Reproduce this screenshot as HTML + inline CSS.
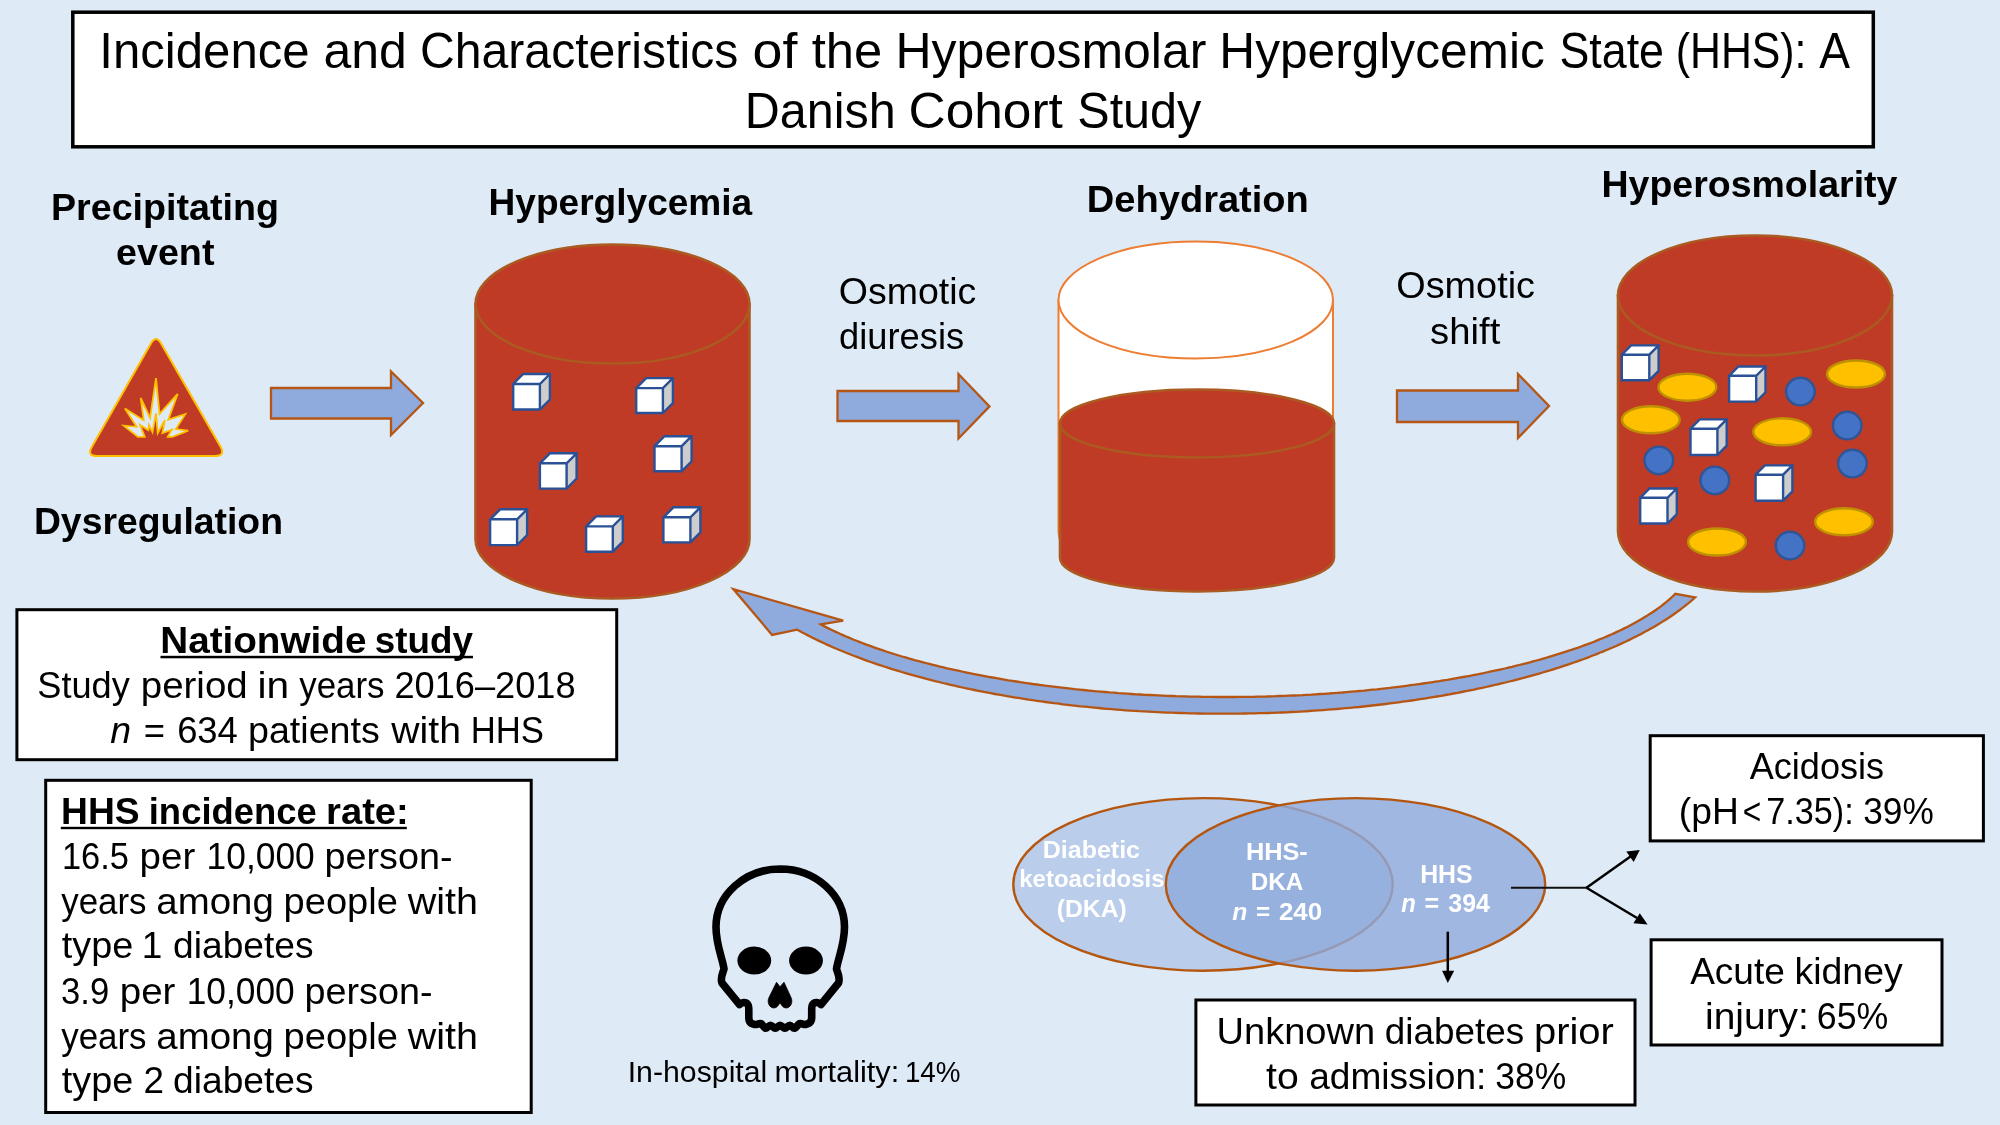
<!DOCTYPE html>
<html><head><meta charset="utf-8"><style>
html,body{margin:0;padding:0;background:#DEEAF6;}
body{width:2000px;height:1125px;overflow:hidden;}
svg{display:block;font-family:"Liberation Sans",sans-serif;font-kerning:none;will-change:transform;}
text{font-kerning:none;}
</style></head><body>
<svg width="2000" height="1125" viewBox="0 0 2000 1125">
<rect width="2000" height="1125" fill="#DEEAF6"/>
<rect x="72.8" y="12.2" width="1800.5" height="134.6" fill="#fff" stroke="#000" stroke-width="3.5"/>
<text x="99.28" y="68.10" font-size="50.5" fill="#000" textLength="210.37" lengthAdjust="spacingAndGlyphs">Incidence</text>
<text x="323.40" y="68.10" font-size="50.5" fill="#000" textLength="83.32" lengthAdjust="spacingAndGlyphs">and</text>
<text x="420.05" y="68.10" font-size="50.5" fill="#000" textLength="318.28" lengthAdjust="spacingAndGlyphs">Characteristics</text>
<text x="752.64" y="68.10" font-size="50.5" fill="#000" textLength="44.80" lengthAdjust="spacingAndGlyphs">of</text>
<text x="811.74" y="68.10" font-size="50.5" fill="#000" textLength="70.50" lengthAdjust="spacingAndGlyphs">the</text>
<text x="895.40" y="68.10" font-size="50.5" fill="#000" textLength="310.95" lengthAdjust="spacingAndGlyphs">Hyperosmolar</text>
<text x="1219.33" y="68.10" font-size="50.5" fill="#000" textLength="325.47" lengthAdjust="spacingAndGlyphs">Hyperglycemic</text>
<text x="1559.44" y="68.10" font-size="50.5" fill="#000" textLength="104.53" lengthAdjust="spacingAndGlyphs">State</text>
<text x="1675.75" y="68.10" font-size="50.5" fill="#000" textLength="130.76" lengthAdjust="spacingAndGlyphs">(HHS):</text>
<text x="1819.31" y="68.10" font-size="50.5" fill="#000" textLength="30.78" lengthAdjust="spacingAndGlyphs">A</text>
<text x="744.78" y="127.80" font-size="50.5" fill="#000" textLength="150.87" lengthAdjust="spacingAndGlyphs">Danish</text>
<text x="908.63" y="127.80" font-size="50.5" fill="#000" textLength="154.20" lengthAdjust="spacingAndGlyphs">Cohort</text>
<text x="1077.27" y="127.80" font-size="50.5" fill="#000" textLength="124.09" lengthAdjust="spacingAndGlyphs">Study</text>
<text x="50.98" y="220.00" font-size="37.8" font-weight="bold" fill="#000" textLength="228.03" lengthAdjust="spacingAndGlyphs">Precipitating</text>
<text x="116.03" y="265.00" font-size="37.8" font-weight="bold" fill="#000" textLength="98.43" lengthAdjust="spacingAndGlyphs">event</text>
<text x="488.52" y="215.00" font-size="37.8" font-weight="bold" fill="#000" textLength="263.72" lengthAdjust="spacingAndGlyphs">Hyperglycemia</text>
<text x="1086.85" y="212.00" font-size="37.8" font-weight="bold" fill="#000" textLength="222.01" lengthAdjust="spacingAndGlyphs">Dehydration</text>
<text x="1601.49" y="197.20" font-size="37.8" font-weight="bold" fill="#000" textLength="295.92" lengthAdjust="spacingAndGlyphs">Hyperosmolarity</text>
<text x="33.90" y="534.00" font-size="37.8" font-weight="bold" fill="#000" textLength="249.12" lengthAdjust="spacingAndGlyphs">Dysregulation</text>
<text x="838.84" y="304.30" font-size="37" fill="#000" textLength="137.54" lengthAdjust="spacingAndGlyphs">Osmotic</text>
<text x="839.08" y="349.30" font-size="37" fill="#000" textLength="125.02" lengthAdjust="spacingAndGlyphs">diuresis</text>
<text x="1396.22" y="298.00" font-size="37" fill="#000" textLength="138.76" lengthAdjust="spacingAndGlyphs">Osmotic</text>
<text x="1430.13" y="344.00" font-size="37" fill="#000" textLength="70.14" lengthAdjust="spacingAndGlyphs">shift</text>
<path d="M151.5,342.5 Q156,335.5 160.5,342.5 L221,447.5 Q225,456 215,456 L97,456 Q87,456 91.5,447.5 Z" fill="#BF3B26" stroke="#FFC000" stroke-width="2" stroke-linejoin="round"/>
<path d="M137.8,436.8 L123.7,425.6 L136.6,426.8 L124.9,408.6 L143.7,420.3 L140.7,398.0 L150.1,418.0 L156.0,378.1 L159.5,413.9 L177.7,393.9 L168.3,419.7 L185.3,414.2 L175.9,429.1 L188.2,430.7 L172.4,436.8 L167.7,436.8 L171.8,429.7 L162.4,433.2 L164.8,420.3 L157.7,433.2 L156.0,413.3 L152.5,432.1 L148.9,425.0 L148.4,430.3 L140.1,425.0 L144.8,436.8 Z" fill="#DEEAF6" stroke="#FFC000" stroke-width="1.8" stroke-linejoin="miter"/>
<path d="M271,388 L391,388 L391,371.5 L423,403 L391,435 L391,418.5 L271,418.5 Z" fill="#8FAADC" stroke="#B55614" stroke-width="2.3"/>
<path d="M837.5,391 L958.5,391 L958.5,374 L989.5,406.4 L958.5,438.5 L958.5,421 L837.5,421 Z" fill="#8FAADC" stroke="#B55614" stroke-width="2.3"/>
<path d="M1397,390.5 L1518,390.5 L1518,374 L1549,406 L1518,438 L1518,422 L1397,422 Z" fill="#8FAADC" stroke="#B55614" stroke-width="2.3"/>
<path d="M475.5,304.0 L475.5,539.0 A137.0,59.5 0 0 0 749.5,539.0 L749.5,304.0 Z" fill="#BF3B26" stroke="#AB5A21" stroke-width="2.6"/>
<ellipse cx="612.5" cy="304.0" rx="137.0" ry="59.5" fill="#BF3B26" stroke="#AB5A21" stroke-width="2.6"/>
<path d="M513.2,384.0 L523.2,374.0 L549.9,374.0 L539.9,384.0 Z" fill="#fff"/>
<path d="M539.9,384.0 L549.9,374.0 L549.9,399.5 L539.9,409.5 Z" fill="#CDCDCD"/>
<rect x="513.2" y="384.0" width="26.7" height="25.5" fill="#fff"/>
<path d="M513.2,384.0 L523.2,374.0 L549.9,374.0 L549.9,399.5 L539.9,409.5 L513.2,409.5 Z M513.2,384.0 L539.9,384.0 L549.9,374.0 M539.9,384.0 L539.9,409.5" fill="none" stroke="#2A5196" stroke-width="2.4" stroke-linejoin="miter"/>
<path d="M636.2,388.1 L646.2,378.1 L672.9,378.1 L662.9,388.1 Z" fill="#fff"/>
<path d="M662.9,388.1 L672.9,378.1 L672.9,403.0 L662.9,413.0 Z" fill="#CDCDCD"/>
<rect x="636.2" y="388.1" width="26.7" height="24.9" fill="#fff"/>
<path d="M636.2,388.1 L646.2,378.1 L672.9,378.1 L672.9,403.0 L662.9,413.0 L636.2,413.0 Z M636.2,388.1 L662.9,388.1 L672.9,378.1 M662.9,388.1 L662.9,413.0" fill="none" stroke="#2A5196" stroke-width="2.4" stroke-linejoin="miter"/>
<path d="M654.5,446.2 L664.5,436.2 L691.6,436.2 L681.6,446.2 Z" fill="#fff"/>
<path d="M681.6,446.2 L691.6,436.2 L691.6,461.3 L681.6,471.3 Z" fill="#CDCDCD"/>
<rect x="654.5" y="446.2" width="27.1" height="25.1" fill="#fff"/>
<path d="M654.5,446.2 L664.5,436.2 L691.6,436.2 L691.6,461.3 L681.6,471.3 L654.5,471.3 Z M654.5,446.2 L681.6,446.2 L691.6,436.2 M681.6,446.2 L681.6,471.3" fill="none" stroke="#2A5196" stroke-width="2.4" stroke-linejoin="miter"/>
<path d="M539.9,463.3 L549.9,453.3 L576.6,453.3 L566.6,463.3 Z" fill="#fff"/>
<path d="M566.6,463.3 L576.6,453.3 L576.6,478.6 L566.6,488.6 Z" fill="#CDCDCD"/>
<rect x="539.9" y="463.3" width="26.7" height="25.3" fill="#fff"/>
<path d="M539.9,463.3 L549.9,453.3 L576.6,453.3 L576.6,478.6 L566.6,488.6 L539.9,488.6 Z M539.9,463.3 L566.6,463.3 L576.6,453.3 M566.6,463.3 L566.6,488.6" fill="none" stroke="#2A5196" stroke-width="2.4" stroke-linejoin="miter"/>
<path d="M490.1,519.3 L500.1,509.3 L527.1,509.3 L517.1,519.3 Z" fill="#fff"/>
<path d="M517.1,519.3 L527.1,509.3 L527.1,535.1 L517.1,545.1 Z" fill="#CDCDCD"/>
<rect x="490.1" y="519.3" width="27.0" height="25.8" fill="#fff"/>
<path d="M490.1,519.3 L500.1,509.3 L527.1,509.3 L527.1,535.1 L517.1,545.1 L490.1,545.1 Z M490.1,519.3 L517.1,519.3 L527.1,509.3 M517.1,519.3 L517.1,545.1" fill="none" stroke="#2A5196" stroke-width="2.4" stroke-linejoin="miter"/>
<path d="M586.1,526.4 L596.1,516.4 L622.8,516.4 L612.8,526.4 Z" fill="#fff"/>
<path d="M612.8,526.4 L622.8,516.4 L622.8,541.7 L612.8,551.7 Z" fill="#CDCDCD"/>
<rect x="586.1" y="526.4" width="26.7" height="25.3" fill="#fff"/>
<path d="M586.1,526.4 L596.1,516.4 L622.8,516.4 L622.8,541.7 L612.8,551.7 L586.1,551.7 Z M586.1,526.4 L612.8,526.4 L622.8,516.4 M612.8,526.4 L612.8,551.7" fill="none" stroke="#2A5196" stroke-width="2.4" stroke-linejoin="miter"/>
<path d="M663.4,517.3 L673.4,507.3 L700.4,507.3 L690.4,517.3 Z" fill="#fff"/>
<path d="M690.4,517.3 L700.4,507.3 L700.4,532.4 L690.4,542.4 Z" fill="#CDCDCD"/>
<rect x="663.4" y="517.3" width="27.0" height="25.1" fill="#fff"/>
<path d="M663.4,517.3 L673.4,507.3 L700.4,507.3 L700.4,532.4 L690.4,542.4 L663.4,542.4 Z M663.4,517.3 L690.4,517.3 L700.4,507.3 M690.4,517.3 L690.4,542.4" fill="none" stroke="#2A5196" stroke-width="2.4" stroke-linejoin="miter"/>
<path d="M1058.5,300.0 L1058.5,531.5 A137.25,58.5 0 0 0 1333,531.5 L1333,300.0 Z" fill="#fff" stroke="#ED7D31" stroke-width="2"/>
<ellipse cx="1195.75" cy="300.0" rx="137.25" ry="58.5" fill="#fff" stroke="#ED7D31" stroke-width="2"/>
<path d="M1060,423.5 L1060,557.5 A137.0,34 0 0 0 1334,557.5 L1334,423.5 Z" fill="#BF3B26" stroke="#AB5A21" stroke-width="2.6"/>
<ellipse cx="1197.0" cy="423.5" rx="137.0" ry="34" fill="#BF3B26" stroke="#AB5A21" stroke-width="2.6"/>
<path d="M1618,295.5 L1618,531.5 A137.0,60 0 0 0 1892,531.5 L1892,295.5 Z" fill="#BF3B26" stroke="#AB5A21" stroke-width="2.6"/>
<ellipse cx="1755.0" cy="295.5" rx="137.0" ry="60" fill="#BF3B26" stroke="#AB5A21" stroke-width="2.6"/>
<ellipse cx="1687.4" cy="387.2" rx="28.9" ry="13.5" fill="#FFC000" stroke="#BF9000" stroke-width="2.4"/>
<ellipse cx="1856" cy="374" rx="28.9" ry="13.5" fill="#FFC000" stroke="#BF9000" stroke-width="2.4"/>
<ellipse cx="1650.8" cy="419.8" rx="28.9" ry="13.5" fill="#FFC000" stroke="#BF9000" stroke-width="2.4"/>
<ellipse cx="1782.2" cy="431.8" rx="28.9" ry="13.5" fill="#FFC000" stroke="#BF9000" stroke-width="2.4"/>
<ellipse cx="1844" cy="521.8" rx="28.9" ry="13.5" fill="#FFC000" stroke="#BF9000" stroke-width="2.4"/>
<ellipse cx="1717" cy="542" rx="28.9" ry="13.5" fill="#FFC000" stroke="#BF9000" stroke-width="2.4"/>
<ellipse cx="1800.4" cy="391.6" rx="14.3" ry="13.8" fill="#4472C4" stroke="#2F5597" stroke-width="2.4"/>
<ellipse cx="1847.2" cy="425.6" rx="14.3" ry="13.8" fill="#4472C4" stroke="#2F5597" stroke-width="2.4"/>
<ellipse cx="1658.8" cy="460.4" rx="14.3" ry="13.8" fill="#4472C4" stroke="#2F5597" stroke-width="2.4"/>
<ellipse cx="1852.4" cy="463.6" rx="14.3" ry="13.8" fill="#4472C4" stroke="#2F5597" stroke-width="2.4"/>
<ellipse cx="1714.8" cy="480.4" rx="14.3" ry="13.8" fill="#4472C4" stroke="#2F5597" stroke-width="2.4"/>
<ellipse cx="1790" cy="545.6" rx="14.3" ry="13.8" fill="#4472C4" stroke="#2F5597" stroke-width="2.4"/>
<path d="M1621.8,354.7 L1631.1,345.4 L1658.6,345.4 L1649.3,354.7 Z" fill="#fff"/>
<path d="M1649.3,354.7 L1658.6,345.4 L1658.6,370.9 L1649.3,380.2 Z" fill="#CDCDCD"/>
<rect x="1621.8" y="354.7" width="27.5" height="25.5" fill="#fff"/>
<path d="M1621.8,354.7 L1631.1,345.4 L1658.6,345.4 L1658.6,370.9 L1649.3,380.2 L1621.8,380.2 Z M1621.8,354.7 L1649.3,354.7 L1658.6,345.4 M1649.3,354.7 L1649.3,380.2" fill="none" stroke="#2A5196" stroke-width="2.4" stroke-linejoin="miter"/>
<path d="M1729.1,375.8 L1738.4,366.5 L1765.5,366.5 L1756.2,375.8 Z" fill="#fff"/>
<path d="M1756.2,375.8 L1765.5,366.5 L1765.5,392.3 L1756.2,401.6 Z" fill="#CDCDCD"/>
<rect x="1729.1" y="375.8" width="27.1" height="25.8" fill="#fff"/>
<path d="M1729.1,375.8 L1738.4,366.5 L1765.5,366.5 L1765.5,392.3 L1756.2,401.6 L1729.1,401.6 Z M1729.1,375.8 L1756.2,375.8 L1765.5,366.5 M1756.2,375.8 L1756.2,401.6" fill="none" stroke="#2A5196" stroke-width="2.4" stroke-linejoin="miter"/>
<path d="M1690.5,428.7 L1699.8,419.4 L1726.7,419.4 L1717.4,428.7 Z" fill="#fff"/>
<path d="M1717.4,428.7 L1726.7,419.4 L1726.7,445.7 L1717.4,455.0 Z" fill="#CDCDCD"/>
<rect x="1690.5" y="428.7" width="26.9" height="26.3" fill="#fff"/>
<path d="M1690.5,428.7 L1699.8,419.4 L1726.7,419.4 L1726.7,445.7 L1717.4,455.0 L1690.5,455.0 Z M1690.5,428.7 L1717.4,428.7 L1726.7,419.4 M1717.4,428.7 L1717.4,455.0" fill="none" stroke="#2A5196" stroke-width="2.4" stroke-linejoin="miter"/>
<path d="M1755.6,474.7 L1764.9,465.4 L1792.4,465.4 L1783.1,474.7 Z" fill="#fff"/>
<path d="M1783.1,474.7 L1792.4,465.4 L1792.4,491.4 L1783.1,500.7 Z" fill="#CDCDCD"/>
<rect x="1755.6" y="474.7" width="27.5" height="26.0" fill="#fff"/>
<path d="M1755.6,474.7 L1764.9,465.4 L1792.4,465.4 L1792.4,491.4 L1783.1,500.7 L1755.6,500.7 Z M1755.6,474.7 L1783.1,474.7 L1792.4,465.4 M1783.1,474.7 L1783.1,500.7" fill="none" stroke="#2A5196" stroke-width="2.4" stroke-linejoin="miter"/>
<path d="M1640.2,497.8 L1649.5,488.5 L1676.8,488.5 L1667.5,497.8 Z" fill="#fff"/>
<path d="M1667.5,497.8 L1676.8,488.5 L1676.8,514.2 L1667.5,523.5 Z" fill="#CDCDCD"/>
<rect x="1640.2" y="497.8" width="27.3" height="25.7" fill="#fff"/>
<path d="M1640.2,497.8 L1649.5,488.5 L1676.8,488.5 L1676.8,514.2 L1667.5,523.5 L1640.2,523.5 Z M1640.2,497.8 L1667.5,497.8 L1676.8,488.5 M1667.5,497.8 L1667.5,523.5" fill="none" stroke="#2A5196" stroke-width="2.4" stroke-linejoin="miter"/>
<path d="M1675.3,593.8 L1674.0,595.2 L1672.5,596.5 L1671.1,597.8 L1669.6,599.2 L1668.1,600.5 L1666.5,601.8 L1664.9,603.1 L1663.2,604.5 L1661.5,605.8 L1659.8,607.1 L1658.0,608.4 L1656.2,609.7 L1654.3,611.0 L1652.5,612.2 L1650.5,613.5 L1648.5,614.8 L1646.5,616.1 L1644.5,617.3 L1642.4,618.6 L1640.3,619.8 L1638.1,621.1 L1635.9,622.3 L1633.6,623.5 L1631.4,624.7 L1629.0,626.0 L1626.7,627.2 L1624.3,628.4 L1621.9,629.6 L1619.4,630.7 L1616.9,631.9 L1614.4,633.1 L1611.8,634.3 L1609.2,635.4 L1606.5,636.6 L1603.9,637.7 L1601.1,638.8 L1598.4,639.9 L1595.6,641.1 L1592.8,642.2 L1589.9,643.3 L1587.0,644.4 L1584.1,645.4 L1581.2,646.5 L1578.2,647.6 L1575.2,648.6 L1572.1,649.7 L1569.0,650.7 L1565.9,651.7 L1562.8,652.7 L1559.6,653.7 L1556.4,654.7 L1553.2,655.7 L1549.9,656.7 L1546.6,657.7 L1543.3,658.6 L1539.9,659.6 L1536.5,660.5 L1533.1,661.4 L1529.7,662.4 L1526.2,663.3 L1522.7,664.2 L1519.2,665.0 L1515.6,665.9 L1512.0,666.8 L1508.4,667.6 L1504.8,668.5 L1501.1,669.3 L1497.5,670.1 L1493.7,670.9 L1490.0,671.7 L1486.3,672.5 L1482.5,673.3 L1478.7,674.1 L1474.8,674.8 L1471.0,675.6 L1467.1,676.3 L1463.2,677.0 L1459.3,677.7 L1455.4,678.4 L1451.4,679.1 L1447.4,679.8 L1443.4,680.4 L1439.4,681.1 L1435.4,681.7 L1431.3,682.3 L1427.2,682.9 L1423.1,683.5 L1419.0,684.1 L1414.9,684.7 L1410.7,685.2 L1406.5,685.8 L1402.4,686.3 L1398.2,686.8 L1393.9,687.4 L1389.7,687.9 L1385.5,688.3 L1381.2,688.8 L1376.9,689.3 L1372.6,689.7 L1368.3,690.1 L1364.0,690.6 L1359.7,691.0 L1355.3,691.4 L1351.0,691.7 L1346.6,692.1 L1342.2,692.5 L1337.8,692.8 L1333.4,693.1 L1329.0,693.5 L1324.6,693.8 L1320.2,694.0 L1315.7,694.3 L1311.3,694.6 L1306.8,694.8 L1302.4,695.1 L1297.9,695.3 L1293.4,695.5 L1289.0,695.7 L1284.5,695.9 L1280.0,696.0 L1275.5,696.2 L1271.0,696.3 L1266.5,696.5 L1262.0,696.6 L1257.5,696.7 L1253.0,696.8 L1248.4,696.8 L1243.9,696.9 L1239.4,696.9 L1234.9,697.0 L1230.4,697.0 L1225.8,697.0 L1221.3,697.0 L1216.8,697.0 L1212.3,696.9 L1207.8,696.9 L1203.2,696.8 L1198.7,696.7 L1194.2,696.7 L1189.7,696.6 L1185.2,696.4 L1180.7,696.3 L1176.2,696.2 L1171.7,696.0 L1167.2,695.8 L1162.7,695.6 L1158.2,695.4 L1153.8,695.2 L1149.3,695.0 L1144.8,694.8 L1140.4,694.5 L1136.0,694.3 L1131.5,694.0 L1127.1,693.7 L1122.7,693.4 L1118.3,693.1 L1113.9,692.7 L1109.5,692.4 L1105.1,692.0 L1100.8,691.7 L1096.4,691.3 L1092.1,690.9 L1087.7,690.5 L1083.4,690.0 L1079.1,689.6 L1074.8,689.2 L1070.6,688.7 L1066.3,688.2 L1062.0,687.7 L1057.8,687.2 L1053.6,686.7 L1049.4,686.2 L1045.2,685.7 L1041.1,685.1 L1036.9,684.5 L1032.8,684.0 L1028.7,683.4 L1024.6,682.8 L1020.5,682.2 L1016.4,681.5 L1012.4,680.9 L1008.4,680.3 L1004.4,679.6 L1000.4,678.9 L996.5,678.2 L992.5,677.5 L988.6,676.8 L984.7,676.1 L980.9,675.4 L977.0,674.6 L973.2,673.9 L969.4,673.1 L965.6,672.3 L961.9,671.5 L958.1,670.7 L954.4,669.9 L950.8,669.1 L947.1,668.3 L943.5,667.4 L939.9,666.6 L936.3,665.7 L932.8,664.8 L929.2,663.9 L925.7,663.0 L922.3,662.1 L918.8,661.2 L915.4,660.3 L912.1,659.3 L908.7,658.4 L905.4,657.4 L902.1,656.5 L898.8,655.5 L895.6,654.5 L892.4,653.5 L889.2,652.5 L886.1,651.5 L883.0,650.4 L879.9,649.4 L876.9,648.4 L873.9,647.3 L870.9,646.2 L867.9,645.2 L865.0,644.1 L862.2,643.0 L859.3,641.9 L856.5,640.8 L853.7,639.7 L851.0,638.5 L848.3,637.4 L845.6,636.3 L843.0,635.1 L840.4,634.0 L837.8,632.8 L835.3,631.6 L832.8,630.5 L830.3,629.3 L827.9,628.1 L825.5,626.9 L823.2,625.7 L820.9,624.4 L843.2,620.6 L733.3,589.1 L772.1,634.9 L797.0,629.6 L799.6,631.0 L802.2,632.4 L804.8,633.8 L807.4,635.1 L810.1,636.5 L812.8,637.9 L815.6,639.2 L818.4,640.6 L821.2,641.9 L824.1,643.2 L826.9,644.6 L829.9,645.9 L832.8,647.2 L835.8,648.5 L838.8,649.7 L841.9,651.0 L844.9,652.3 L848.0,653.5 L851.2,654.7 L854.4,656.0 L857.6,657.2 L860.8,658.4 L864.0,659.6 L867.3,660.8 L870.7,662.0 L874.0,663.1 L877.4,664.3 L880.8,665.4 L884.2,666.5 L887.7,667.7 L891.2,668.8 L894.7,669.9 L898.2,670.9 L901.8,672.0 L905.4,673.1 L909.0,674.1 L912.7,675.1 L916.4,676.2 L920.1,677.2 L923.8,678.2 L927.5,679.2 L931.3,680.1 L935.1,681.1 L938.9,682.0 L942.8,683.0 L946.7,683.9 L950.5,684.8 L954.5,685.7 L958.4,686.6 L962.4,687.5 L966.3,688.3 L970.3,689.2 L974.4,690.0 L978.4,690.8 L982.5,691.6 L986.6,692.4 L990.7,693.2 L994.8,694.0 L998.9,694.7 L1003.1,695.4 L1007.2,696.2 L1011.4,696.9 L1015.7,697.6 L1019.9,698.2 L1024.1,698.9 L1028.4,699.6 L1032.7,700.2 L1037.0,700.8 L1041.3,701.4 L1045.6,702.0 L1049.9,702.6 L1054.3,703.2 L1058.7,703.7 L1063.0,704.3 L1067.4,704.8 L1071.8,705.3 L1076.3,705.8 L1080.7,706.3 L1085.1,706.7 L1089.6,707.2 L1094.0,707.6 L1098.5,708.0 L1103.0,708.5 L1107.5,708.8 L1112.0,709.2 L1116.5,709.6 L1121.0,709.9 L1125.6,710.3 L1130.1,710.6 L1134.7,710.9 L1139.2,711.2 L1143.8,711.4 L1148.4,711.7 L1152.9,711.9 L1157.5,712.2 L1162.1,712.4 L1166.7,712.6 L1171.3,712.7 L1175.9,712.9 L1180.5,713.0 L1185.1,713.2 L1189.7,713.3 L1194.3,713.4 L1198.9,713.5 L1203.5,713.6 L1208.2,713.6 L1212.8,713.7 L1217.4,713.7 L1222.0,713.7 L1226.6,713.7 L1231.3,713.7 L1235.9,713.6 L1240.5,713.6 L1245.1,713.5 L1249.7,713.4 L1254.4,713.3 L1259.0,713.2 L1263.6,713.1 L1268.2,713.0 L1272.8,712.8 L1277.4,712.6 L1282.0,712.5 L1286.6,712.3 L1291.1,712.0 L1295.7,711.8 L1300.3,711.6 L1304.9,711.3 L1309.4,711.0 L1314.0,710.7 L1318.5,710.4 L1323.0,710.1 L1327.6,709.7 L1332.1,709.4 L1336.6,709.0 L1341.1,708.6 L1345.6,708.2 L1350.1,707.8 L1354.5,707.4 L1359.0,707.0 L1363.4,706.5 L1367.9,706.0 L1372.3,705.5 L1376.7,705.0 L1381.1,704.5 L1385.5,704.0 L1389.9,703.4 L1394.2,702.9 L1398.6,702.3 L1402.9,701.7 L1407.2,701.1 L1411.5,700.5 L1415.8,699.9 L1420.1,699.2 L1424.3,698.6 L1428.6,697.9 L1432.8,697.2 L1437.0,696.5 L1441.2,695.8 L1445.4,695.0 L1449.5,694.3 L1453.6,693.5 L1457.7,692.8 L1461.8,692.0 L1465.9,691.2 L1470.0,690.4 L1474.0,689.6 L1478.0,688.7 L1482.0,687.9 L1486.0,687.0 L1489.9,686.1 L1493.8,685.2 L1497.7,684.3 L1501.6,683.4 L1505.5,682.5 L1509.3,681.5 L1513.1,680.6 L1516.9,679.6 L1520.7,678.6 L1524.4,677.6 L1528.1,676.6 L1531.8,675.6 L1535.5,674.6 L1539.1,673.6 L1542.7,672.5 L1546.3,671.4 L1549.9,670.4 L1553.4,669.3 L1556.9,668.2 L1560.4,667.1 L1563.8,665.9 L1567.2,664.8 L1570.6,663.7 L1574.0,662.5 L1577.3,661.3 L1580.6,660.1 L1583.9,659.0 L1587.1,657.8 L1590.4,656.5 L1593.5,655.3 L1596.7,654.1 L1599.8,652.8 L1602.9,651.6 L1606.0,650.3 L1609.0,649.0 L1612.0,647.8 L1615.0,646.5 L1617.9,645.2 L1620.8,643.9 L1623.7,642.5 L1626.5,641.2 L1629.3,639.9 L1632.1,638.5 L1634.8,637.1 L1637.5,635.8 L1640.2,634.4 L1642.8,633.0 L1645.4,631.6 L1648.0,630.2 L1650.5,628.8 L1653.0,627.4 L1655.5,625.9 L1657.9,624.5 L1660.3,623.1 L1662.6,621.6 L1664.9,620.2 L1667.2,618.7 L1669.5,617.2 L1671.7,615.7 L1673.8,614.2 L1676.0,612.7 L1678.0,611.2 L1680.1,609.7 L1682.1,608.2 L1684.1,606.7 L1686.0,605.1 L1687.9,603.6 L1689.8,602.1 L1691.6,600.5 L1693.4,599.0 L1695.2,597.4 Z" fill="#8FAADC" stroke="#B55614" stroke-width="2.3" stroke-linejoin="miter"/>
<rect x="16.9" y="609.7" width="599.8" height="150" fill="#fff" stroke="#000" stroke-width="3"/>
<text x="160.21" y="653.20" font-size="37" font-weight="bold" fill="#000" textLength="206.23" lengthAdjust="spacingAndGlyphs">Nationwide</text>
<text x="374.81" y="653.20" font-size="37" font-weight="bold" fill="#000" textLength="98.07" lengthAdjust="spacingAndGlyphs">study</text>
<rect x="160.5" y="655.8" width="312.5" height="2.5" fill="#000"/>
<text x="37.34" y="698.00" font-size="37" fill="#000" textLength="92.49" lengthAdjust="spacingAndGlyphs">Study</text>
<text x="140.79" y="698.00" font-size="37" fill="#000" textLength="106.92" lengthAdjust="spacingAndGlyphs">period</text>
<text x="257.53" y="698.00" font-size="37" fill="#000" textLength="31.63" lengthAdjust="spacingAndGlyphs">in</text>
<text x="299.20" y="698.00" font-size="37" fill="#000" textLength="85.37" lengthAdjust="spacingAndGlyphs">years</text>
<text x="394.39" y="698.00" font-size="37" fill="#000" textLength="181.18" lengthAdjust="spacingAndGlyphs">2016–2018</text>
<text x="110.36" y="742.80" font-size="37" font-style="italic" fill="#000" textLength="20.83" lengthAdjust="spacingAndGlyphs">n</text>
<text x="143.72" y="742.80" font-size="37" fill="#000" textLength="21.27" lengthAdjust="spacingAndGlyphs">=</text>
<text x="177.14" y="742.80" font-size="37" fill="#000" textLength="60.73" lengthAdjust="spacingAndGlyphs">634</text>
<text x="247.99" y="742.80" font-size="37" fill="#000" textLength="131.78" lengthAdjust="spacingAndGlyphs">patients</text>
<text x="391.24" y="742.80" font-size="37" fill="#000" textLength="69.72" lengthAdjust="spacingAndGlyphs">with</text>
<text x="470.76" y="742.80" font-size="37" fill="#000" textLength="73.25" lengthAdjust="spacingAndGlyphs">HHS</text>
<rect x="45.7" y="780.3" width="485.5" height="332.2" fill="#fff" stroke="#000" stroke-width="3"/>
<text x="61.11" y="823.70" font-size="37" font-weight="bold" fill="#000" textLength="78.56" lengthAdjust="spacingAndGlyphs">HHS</text>
<text x="148.75" y="823.70" font-size="37" font-weight="bold" fill="#000" textLength="168.08" lengthAdjust="spacingAndGlyphs">incidence</text>
<text x="326.08" y="823.70" font-size="37" font-weight="bold" fill="#000" textLength="82.70" lengthAdjust="spacingAndGlyphs">rate:</text>
<rect x="60.8" y="826.8" width="346" height="2.4" fill="#000"/>
<text x="61.88" y="868.60" font-size="37" fill="#000" textLength="66.97" lengthAdjust="spacingAndGlyphs">16.5</text>
<text x="139.64" y="868.60" font-size="37" fill="#000" textLength="55.63" lengthAdjust="spacingAndGlyphs">per</text>
<text x="206.61" y="868.60" font-size="37" fill="#000" textLength="108.09" lengthAdjust="spacingAndGlyphs">10,000</text>
<text x="324.59" y="868.60" font-size="37" fill="#000" textLength="127.86" lengthAdjust="spacingAndGlyphs">person-</text>
<text x="61.20" y="913.70" font-size="37" fill="#000" textLength="85.37" lengthAdjust="spacingAndGlyphs">years</text>
<text x="156.29" y="913.70" font-size="37" fill="#000" textLength="117.50" lengthAdjust="spacingAndGlyphs">among</text>
<text x="283.56" y="913.70" font-size="37" fill="#000" textLength="114.31" lengthAdjust="spacingAndGlyphs">people</text>
<text x="407.84" y="913.70" font-size="37" fill="#000" textLength="70.24" lengthAdjust="spacingAndGlyphs">with</text>
<text x="61.83" y="957.80" font-size="37" fill="#000" textLength="71.44" lengthAdjust="spacingAndGlyphs">type</text>
<text x="173.14" y="957.80" font-size="37" fill="#000" textLength="140.39" lengthAdjust="spacingAndGlyphs">diabetes</text>
<text x="141.81" y="957.80" font-size="37" fill="#000" textLength="20.58" lengthAdjust="spacingAndGlyphs">1</text>
<text x="61.09" y="1003.60" font-size="37" fill="#000" textLength="48.04" lengthAdjust="spacingAndGlyphs">3.9</text>
<text x="119.74" y="1003.60" font-size="37" fill="#000" textLength="55.63" lengthAdjust="spacingAndGlyphs">per</text>
<text x="186.72" y="1003.60" font-size="37" fill="#000" textLength="107.98" lengthAdjust="spacingAndGlyphs">10,000</text>
<text x="304.58" y="1003.60" font-size="37" fill="#000" textLength="127.96" lengthAdjust="spacingAndGlyphs">person-</text>
<text x="61.20" y="1048.70" font-size="37" fill="#000" textLength="85.37" lengthAdjust="spacingAndGlyphs">years</text>
<text x="156.29" y="1048.70" font-size="37" fill="#000" textLength="117.50" lengthAdjust="spacingAndGlyphs">among</text>
<text x="283.56" y="1048.70" font-size="37" fill="#000" textLength="114.31" lengthAdjust="spacingAndGlyphs">people</text>
<text x="407.84" y="1048.70" font-size="37" fill="#000" textLength="70.24" lengthAdjust="spacingAndGlyphs">with</text>
<text x="61.83" y="1092.80" font-size="37" fill="#000" textLength="71.44" lengthAdjust="spacingAndGlyphs">type</text>
<text x="143.46" y="1092.80" font-size="37" fill="#000" textLength="20.49" lengthAdjust="spacingAndGlyphs">2</text>
<text x="173.14" y="1092.80" font-size="37" fill="#000" textLength="140.39" lengthAdjust="spacingAndGlyphs">diabetes</text>
<text x="627.72" y="1082.00" font-size="29.2" fill="#000" textLength="139.60" lengthAdjust="spacingAndGlyphs">In-hospital</text>
<text x="774.57" y="1082.00" font-size="29.2" fill="#000" textLength="124.73" lengthAdjust="spacingAndGlyphs">mortality:</text>
<text x="904.89" y="1082.00" font-size="29.2" fill="#000" textLength="55.60" lengthAdjust="spacingAndGlyphs">14%</text>
<path d="M780.2,869 A64.3,58 0 0 1 844.5,927 C844.5,945 838,958 836.5,969 C838,974 840.5,978 838.5,983 L821,1004.5 C818,1002 815,1002 813.5,1003.5 C811.5,1005 811.7,1007 811.7,1010 L811.7,1017.5 C811.7,1022 809,1024.5 804,1024.5 C803.25,1024.35 801.07,1022.97 799.50,1023.60 C797.93,1024.23 796.23,1028.03 794.60,1028.30 C792.97,1028.57 791.32,1025.20 789.70,1025.20 C788.08,1025.20 786.50,1028.30 784.90,1028.30 C783.30,1028.30 781.70,1025.20 780.10,1025.20 C778.50,1025.20 776.90,1028.30 775.30,1028.30 C773.70,1028.30 772.13,1025.20 770.50,1025.20 C768.87,1025.20 767.08,1028.57 765.50,1028.30 C763.92,1028.03 762.50,1024.23 761.00,1023.60 C759.50,1022.97 757.25,1024.35 756.50,1024.50 C751,1024.5 748.8,1022 748.8,1017.5 L748.8,1010 C748.8,1007 749,1005 747,1003.5 C745.5,1002 742.5,1002 739.5,1004.5 L722,983 C720,978 722.5,974 724,969 C722.5,958 716,945 716,927 A64.3,58 0 0 1 780.2,869 Z" fill="none" stroke="#000" stroke-width="7.6" stroke-linejoin="round"/>
<ellipse cx="754.3" cy="960.6" rx="16.9" ry="14" fill="#000"/>
<ellipse cx="806" cy="960.6" rx="16.9" ry="14" fill="#000"/>
<path d="M776.5,982.3 L780,986.8 L784,982.3 L791,997.5 C793.5,1003 790,1008 786,1008 C783,1008 781.5,1005 780,1002.8 C778.5,1005 777,1008 774,1008 C770,1008 766.5,1003 769,997.5 Z" fill="#000" stroke="#000" stroke-width="0.8" stroke-linejoin="round"/>
<ellipse cx="1203" cy="884.4" rx="189.7" ry="86.3" fill="rgba(143,170,220,0.45)" stroke="#B5560F" stroke-width="2.4"/>
<ellipse cx="1355.5" cy="884.4" rx="189.7" ry="86.3" fill="rgba(143,170,220,0.8)" stroke="#B5560F" stroke-width="2.4"/>
<text x="1042.72" y="857.50" font-size="23.7" font-weight="bold" fill="#fff" textLength="97.31" lengthAdjust="spacingAndGlyphs">Diabetic</text>
<text x="1019.22" y="886.80" font-size="23.7" font-weight="bold" fill="#fff" textLength="145.37" lengthAdjust="spacingAndGlyphs">ketoacidosis</text>
<text x="1056.77" y="917.20" font-size="23.7" font-weight="bold" fill="#fff" textLength="69.96" lengthAdjust="spacingAndGlyphs">(DKA)</text>
<text x="1245.90" y="860.10" font-size="23.7" font-weight="bold" fill="#fff" textLength="61.92" lengthAdjust="spacingAndGlyphs">HHS-</text>
<text x="1250.77" y="890.00" font-size="23.7" font-weight="bold" fill="#fff" textLength="52.67" lengthAdjust="spacingAndGlyphs">DKA</text>
<text x="1232.18" y="919.80" font-size="23.7" font-weight="bold" font-style="italic" fill="#fff" textLength="15.16" lengthAdjust="spacingAndGlyphs">n</text>
<text x="1256.10" y="919.80" font-size="23.7" font-weight="bold" fill="#fff" textLength="14.19" lengthAdjust="spacingAndGlyphs">=</text>
<text x="1278.99" y="919.80" font-size="23.7" font-weight="bold" fill="#fff" textLength="43.18" lengthAdjust="spacingAndGlyphs">240</text>
<text x="1420.14" y="883.00" font-size="25.8" font-weight="bold" fill="#fff" textLength="52.44" lengthAdjust="spacingAndGlyphs">HHS</text>
<text x="1401.29" y="912.40" font-size="25.8" font-weight="bold" font-style="italic" fill="#fff" textLength="14.61" lengthAdjust="spacingAndGlyphs">n</text>
<text x="1424.47" y="912.40" font-size="25.8" font-weight="bold" fill="#fff" textLength="14.66" lengthAdjust="spacingAndGlyphs">=</text>
<text x="1448.33" y="912.40" font-size="25.8" font-weight="bold" fill="#fff" textLength="41.61" lengthAdjust="spacingAndGlyphs">394</text>
<path d="M1511,887.7 L1587,887.7" stroke="#111" stroke-width="1.9" fill="none"/>
<g stroke="#000" stroke-width="2.5" fill="none" stroke-linecap="butt"><path d="M1586.5,887.7 L1630.5,856.5"/><path d="M1586.5,887.7 L1637,918"/><path d="M1447.8,931.7 L1447.8,972"/></g>
<path d="M1639.8,849.9 L1626.3,851.6 L1633.7,862 Z" fill="#000"/>
<path d="M1647.6,924.6 L1633.4,923.2 L1639.8,913.2 Z" fill="#000"/>
<path d="M1447.8,982.9 L1442.1,970.8 L1454.2,970.8 Z" fill="#000"/>
<rect x="1650.2" y="735.7" width="333.2" height="105.2" fill="#fff" stroke="#000" stroke-width="3"/>
<text x="1749.73" y="779.30" font-size="37" fill="#000" textLength="134.36" lengthAdjust="spacingAndGlyphs">Acidosis</text>
<text x="1678.89" y="824.10" font-size="37" fill="#000" textLength="59.93" lengthAdjust="spacingAndGlyphs">(pH</text>
<text x="1742.65" y="824.10" font-size="37" fill="#000" textLength="18.50" lengthAdjust="spacingAndGlyphs">&lt;</text>
<text x="1766.26" y="824.10" font-size="37" fill="#000" textLength="87.46" lengthAdjust="spacingAndGlyphs">7.35):</text>
<text x="1863.26" y="824.10" font-size="37" fill="#000" textLength="70.49" lengthAdjust="spacingAndGlyphs">39%</text>
<rect x="1651.1" y="939.8" width="290.9" height="105.2" fill="#fff" stroke="#000" stroke-width="3"/>
<text x="1690.13" y="984.00" font-size="37" fill="#000" textLength="94.71" lengthAdjust="spacingAndGlyphs">Acute</text>
<text x="1794.49" y="984.00" font-size="37" fill="#000" textLength="108.17" lengthAdjust="spacingAndGlyphs">kidney</text>
<text x="1704.99" y="1029.20" font-size="37" fill="#000" textLength="103.94" lengthAdjust="spacingAndGlyphs">injury:</text>
<text x="1816.78" y="1029.20" font-size="37" fill="#000" textLength="71.49" lengthAdjust="spacingAndGlyphs">65%</text>
<rect x="1195.9" y="1000" width="439.1" height="105" fill="#fff" stroke="#000" stroke-width="3"/>
<text x="1216.57" y="1043.60" font-size="37" fill="#000" textLength="158.60" lengthAdjust="spacingAndGlyphs">Unknown</text>
<text x="1384.85" y="1043.60" font-size="37" fill="#000" textLength="139.37" lengthAdjust="spacingAndGlyphs">diabetes</text>
<text x="1533.94" y="1043.60" font-size="37" fill="#000" textLength="79.92" lengthAdjust="spacingAndGlyphs">prior</text>
<text x="1266.11" y="1088.70" font-size="37" fill="#000" textLength="32.63" lengthAdjust="spacingAndGlyphs">to</text>
<text x="1309.24" y="1088.70" font-size="37" fill="#000" textLength="177.12" lengthAdjust="spacingAndGlyphs">admission:</text>
<text x="1495.25" y="1088.70" font-size="37" fill="#000" textLength="70.90" lengthAdjust="spacingAndGlyphs">38%</text>
</svg>
</body></html>
